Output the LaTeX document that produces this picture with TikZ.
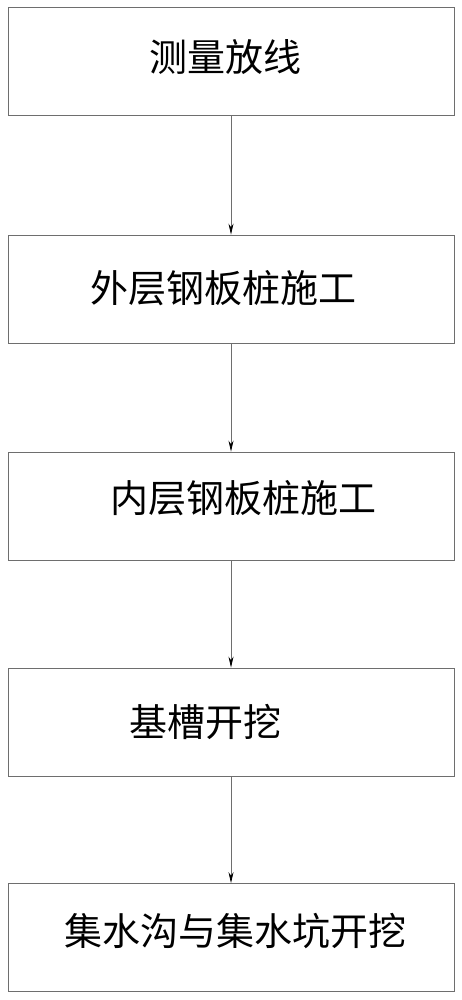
\documentclass[tikz,border=0pt]{standalone}
\usepackage{fontspec}
\usetikzlibrary{arrows.meta}
\newfontfamily\cjk{Noto Sans CJK SC}
\definecolor{boxline}{HTML}{6E6E6E}
\begin{document}
\begin{tikzpicture}[
            x=1pt, y=1pt,
            stepbox/.style={rectangle, draw=boxline, line width=0.8pt, minimum width=446pt, minimum height=108pt, inner sep=0pt},
            steptext/.style={font=\cjk\fontsize{38}{40}\selectfont, inner sep=0pt},
            arrow/.style={-{Stealth[length=11pt, width=5pt, black]}, line width=0.8pt, draw=boxline}
        ]
            \useasboundingbox (0,0) rectangle (462,-1000);

            % Boxes
            \node[stepbox] (b1) at (231,-61.5) {};
            \node[stepbox] (b2) at (231,-289) {};
            \node[stepbox] (b3) at (231,-506) {};
            \node[stepbox] (b4) at (231,-722) {};
            \node[stepbox] (b5) at (231,-937.5) {};

            % Texts
            \node[steptext] (t1) at ([shift={(-6,4)}]b1.center) {测量放线};
            \node[steptext] (t2) at ([shift={(-8,1)}]b2.center) {外层钢板桩施工};
            \node[steptext] (t3) at ([shift={(12,8)}]b3.center) {内层钢板桩施工};
            \node[steptext] (t4) at ([shift={(-26,0)}]b4.center) {基槽开挖};
            \node[steptext] (t5) at ([shift={(4,6)}]b5.center) {集水沟与集水坑开挖};

            % Arrows
            \draw[arrow] (b1) -- (b2);
            \draw[arrow] (b2) -- (b3);
            \draw[arrow] (b3) -- (b4);
            \draw[arrow] (b4) -- (b5);
        \end{tikzpicture}
\end{document}
